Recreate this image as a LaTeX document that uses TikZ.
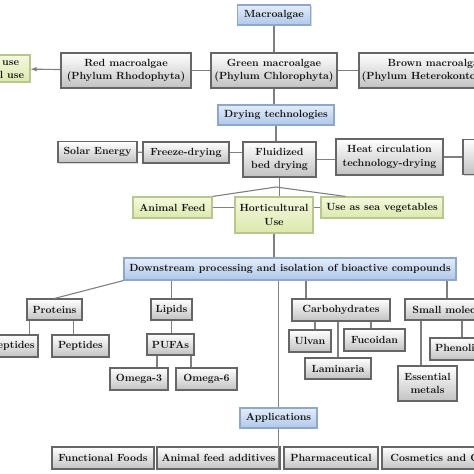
\documentclass[tikz,border=0pt]{standalone}
\usetikzlibrary{shadows}
\definecolor{boxline}{HTML}{666666}
\definecolor{bluetop}{HTML}{E3EDF9}
\definecolor{bluebot}{HTML}{AFC7EA}
\definecolor{blueline}{HTML}{8DA7CF}
\definecolor{greentop}{HTML}{F5F9DF}
\definecolor{greenbot}{HTML}{DCE8AC}
\definecolor{greenline}{HTML}{B7C88A}
\begin{document}
\begin{tikzpicture}[x=1pt,y=-1pt,font=\fontsize{10.4}{13.5}\bfseries\selectfont]
	\tikzstyle{box} = [draw=boxline,line width=1.1pt,top color=white,bottom color=black!24,
		drop shadow={opacity=0.3,shadow xshift=1.2pt,shadow yshift=-1.2pt},
		text=black!92,inner sep=1pt,align=center,minimum height=21pt]
	\tikzstyle{head} = [box,draw=blueline,top color=bluetop,bottom color=bluebot]
	\tikzstyle{use} = [box,draw=greenline,top color=greentop,bottom color=greenbot]
	\tikzstyle{link} = [draw=black!50,line width=1.1pt]
	
	\clip (0,0) rectangle (474,474);
	\fill[white] (0,0) rectangle (474,474);
	
	% algae
	\node[head] (mac) at (274,15) [minimum width=73pt,minimum height=20pt] {Macroalgae};
	\node[use] (medical) at (-12,68.5) [minimum width=84pt,minimum height=27pt,inner sep=0pt] {Medical use\\Industrial use};
	\node[box] (red) at (126,70.5) [minimum width=130pt,minimum height=35pt] {Red macroalgae\\(Phylum Rhodophyta)};
	\node[box] (green) at (274,70.5) [minimum width=126pt,minimum height=35pt] {Green macroalgae\\(Phylum Chlorophyta)};
	\node[box] (brown) at (436,70.5) [minimum width=154pt,minimum height=35pt] {Brown macroalgae\\(Phylum Heterokontophyta)};
	
	% drying
	\node[head] (dry) at (276,115) [minimum width=116pt,minimum height=20pt] {Drying technologies};
	\node[box] (solar) at (97.5,152) [minimum width=79pt] {Solar Energy};
	\node[box] (freeze) at (186,152.5) [minimum width=86pt] {Freeze-drying};
	\node[box] (fluid) at (279.5,159.5) [minimum width=73pt,minimum height=35pt] {Fluidized\\bed drying};
	\node[box] (heat) at (389.5,157) [minimum width=107pt,minimum height=36pt] {Heat circulation\\technology-drying};
	\node[box] (tray) at (526,157) [minimum width=126pt,minimum height=35pt] {Tray drying};
	
	% uses
	\node[use] (feed) at (172.5,207.5) [minimum width=79pt] {Animal Feed};
	\node[use] (hort) at (274,215) [minimum width=78pt,minimum height=36pt] {Horticultural\\Use};
	\node[use] (sea) at (382,207.5) [minimum width=122pt] {Use as sea vegetables};
	\coordinate (fork) at (276,187);
	
	% compounds
	\node[head] (down) at (290,269) [minimum width=332pt,minimum height=22pt] {Downstream processing and isolation of bioactive compounds};
	\node[box] (prot) at (54.5,309.5) [minimum width=55pt] {Proteins};
	\node[box] (lip) at (171.5,309.5) [minimum width=41pt] {Lipids};
	\node[box] (carb) at (341,310) [minimum width=98pt,minimum height=22pt] {Carbohydrates};
	\node[box] (small) at (454,309.5) [minimum width=98pt] {Small molecules};
	\node[box] (poly) at (1,346) [minimum width=74pt,minimum height=22pt] {Polypeptides};
	\node[box] (pep) at (80.5,346) [minimum width=57pt,minimum height=22pt] {Peptides};
	\node[box] (pufa) at (170.5,344.5) [minimum width=47pt] {PUFAs};
	\node[box] (o3) at (139,379) [minimum width=58pt,minimum height=22pt] {Omega-3};
	\node[box] (o6) at (206.5,379) [minimum width=61pt,minimum height=22pt] {Omega-6};
	\node[box] (ulvan) at (310,341) [minimum width=42pt,minimum height=22pt] {Ulvan};
	\node[box] (fuco) at (374.5,340) [minimum width=61pt,minimum height=22pt] {Fucoidan};
	\node[box] (lam) at (338,368.5) [minimum width=66pt] {Laminaria};
	\node[box] (metals) at (427.5,383.5) [minimum width=59pt,minimum height=35pt] {Essential\\metals};
	\node[box] (phen) at (489,349) [minimum width=118pt,minimum height=22pt] {Phenolic compounds};
	
	% applications
	\node[head] (apps) at (278.5,418) [minimum width=77pt,minimum height=20pt] {Applications};
	\node[box] (ff) at (103,458) [minimum width=102pt,minimum height=22pt] {Functional Foods};
	\node[box] (afa) at (218.5,458) [minimum width=123pt,minimum height=22pt] {Animal feed additives};
	\node[box] (pharma) at (331,458) [minimum width=94pt,minimum height=22pt] {Pharmaceutical};
	\node[box] (cosm) at (470,458) [minimum width=176pt,minimum height=22pt] {Cosmetics and Cosmeceuticals};
	
	\path (mac) edge[link] (green);
	\path (red) edge[link] (green);
	\path (green) edge[link] (brown);
	\path (red) edge[link,-latex] (medical);
	\path (green.south) edge[link] (green.south |- dry.north);
	\path (dry.south) edge[link] (dry.south |- fluid.north);
	\path (solar) edge[link] (freeze);
	\path (freeze.east) edge[link] (freeze.east -| fluid.west);
	\path (fluid.east) edge[link] (fluid.east -| heat.west);
	\path (heat.east) edge[link] (heat.east -| tray.west);
	\path (fluid.south) edge[link] (fluid.south |- hort.north);
	\path (fork) edge[link] (feed.north east);
	\path (fork) edge[link] ([xshift=25pt]sea.north west);
	\path (feed.east) edge[link] (feed.east -| hort.west);
	\path (sea.west -| hort.east) edge[link] (sea.west);
	\path (hort.south) edge[link] (hort.south |- down.north);
	\path (down.south west) edge[link] (prot.north);
	\path (down.south -| lip.north) edge[link] (lip.north);
	\path ([xshift=-35pt]carb.north |- down.south) edge[link] ([xshift=-35pt]carb.north);
	\path ([xshift=-7pt]small.north |- down.south) edge[link] ([xshift=-7pt]small.north);
	\path ([xshift=3pt]prot.south west) edge[link] ([xshift=3pt]prot.south west |- poly.north);
	\path ([xshift=-9pt]prot.south east) edge[link] ([xshift=-9pt]prot.south east |- pep.north);
	\path (lip.south) edge[link] (lip.south |- pufa.north);
	\path ([xshift=18pt]o3.north |- pufa.south) edge[link] ([xshift=18pt]o3.north);
	\path ([xshift=-15.5pt]o6.north |- pufa.south) edge[link] ([xshift=-15.5pt]o6.north);
	\path ([xshift=5pt]ulvan.north |- carb.south) edge[link] ([xshift=5pt]ulvan.north);
	\path ([xshift=-3.5pt]fuco.north |- carb.south) edge[link] ([xshift=-3.5pt]fuco.north);
	\path (lam.north |- carb.south) edge[link] (lam.north);
	\path ([xshift=-6.5pt]metals.north |- small.south) edge[link] ([xshift=-6.5pt]metals.north);
	\path ([xshift=-27pt]phen.north |- small.south) edge[link] ([xshift=-27pt]phen.north);
	\path (down.south -| apps.north) edge[link] (apps.north);
	\path (apps.south) edge[link] (apps.south |- pharma.south);
\end{tikzpicture}
\end{document}
